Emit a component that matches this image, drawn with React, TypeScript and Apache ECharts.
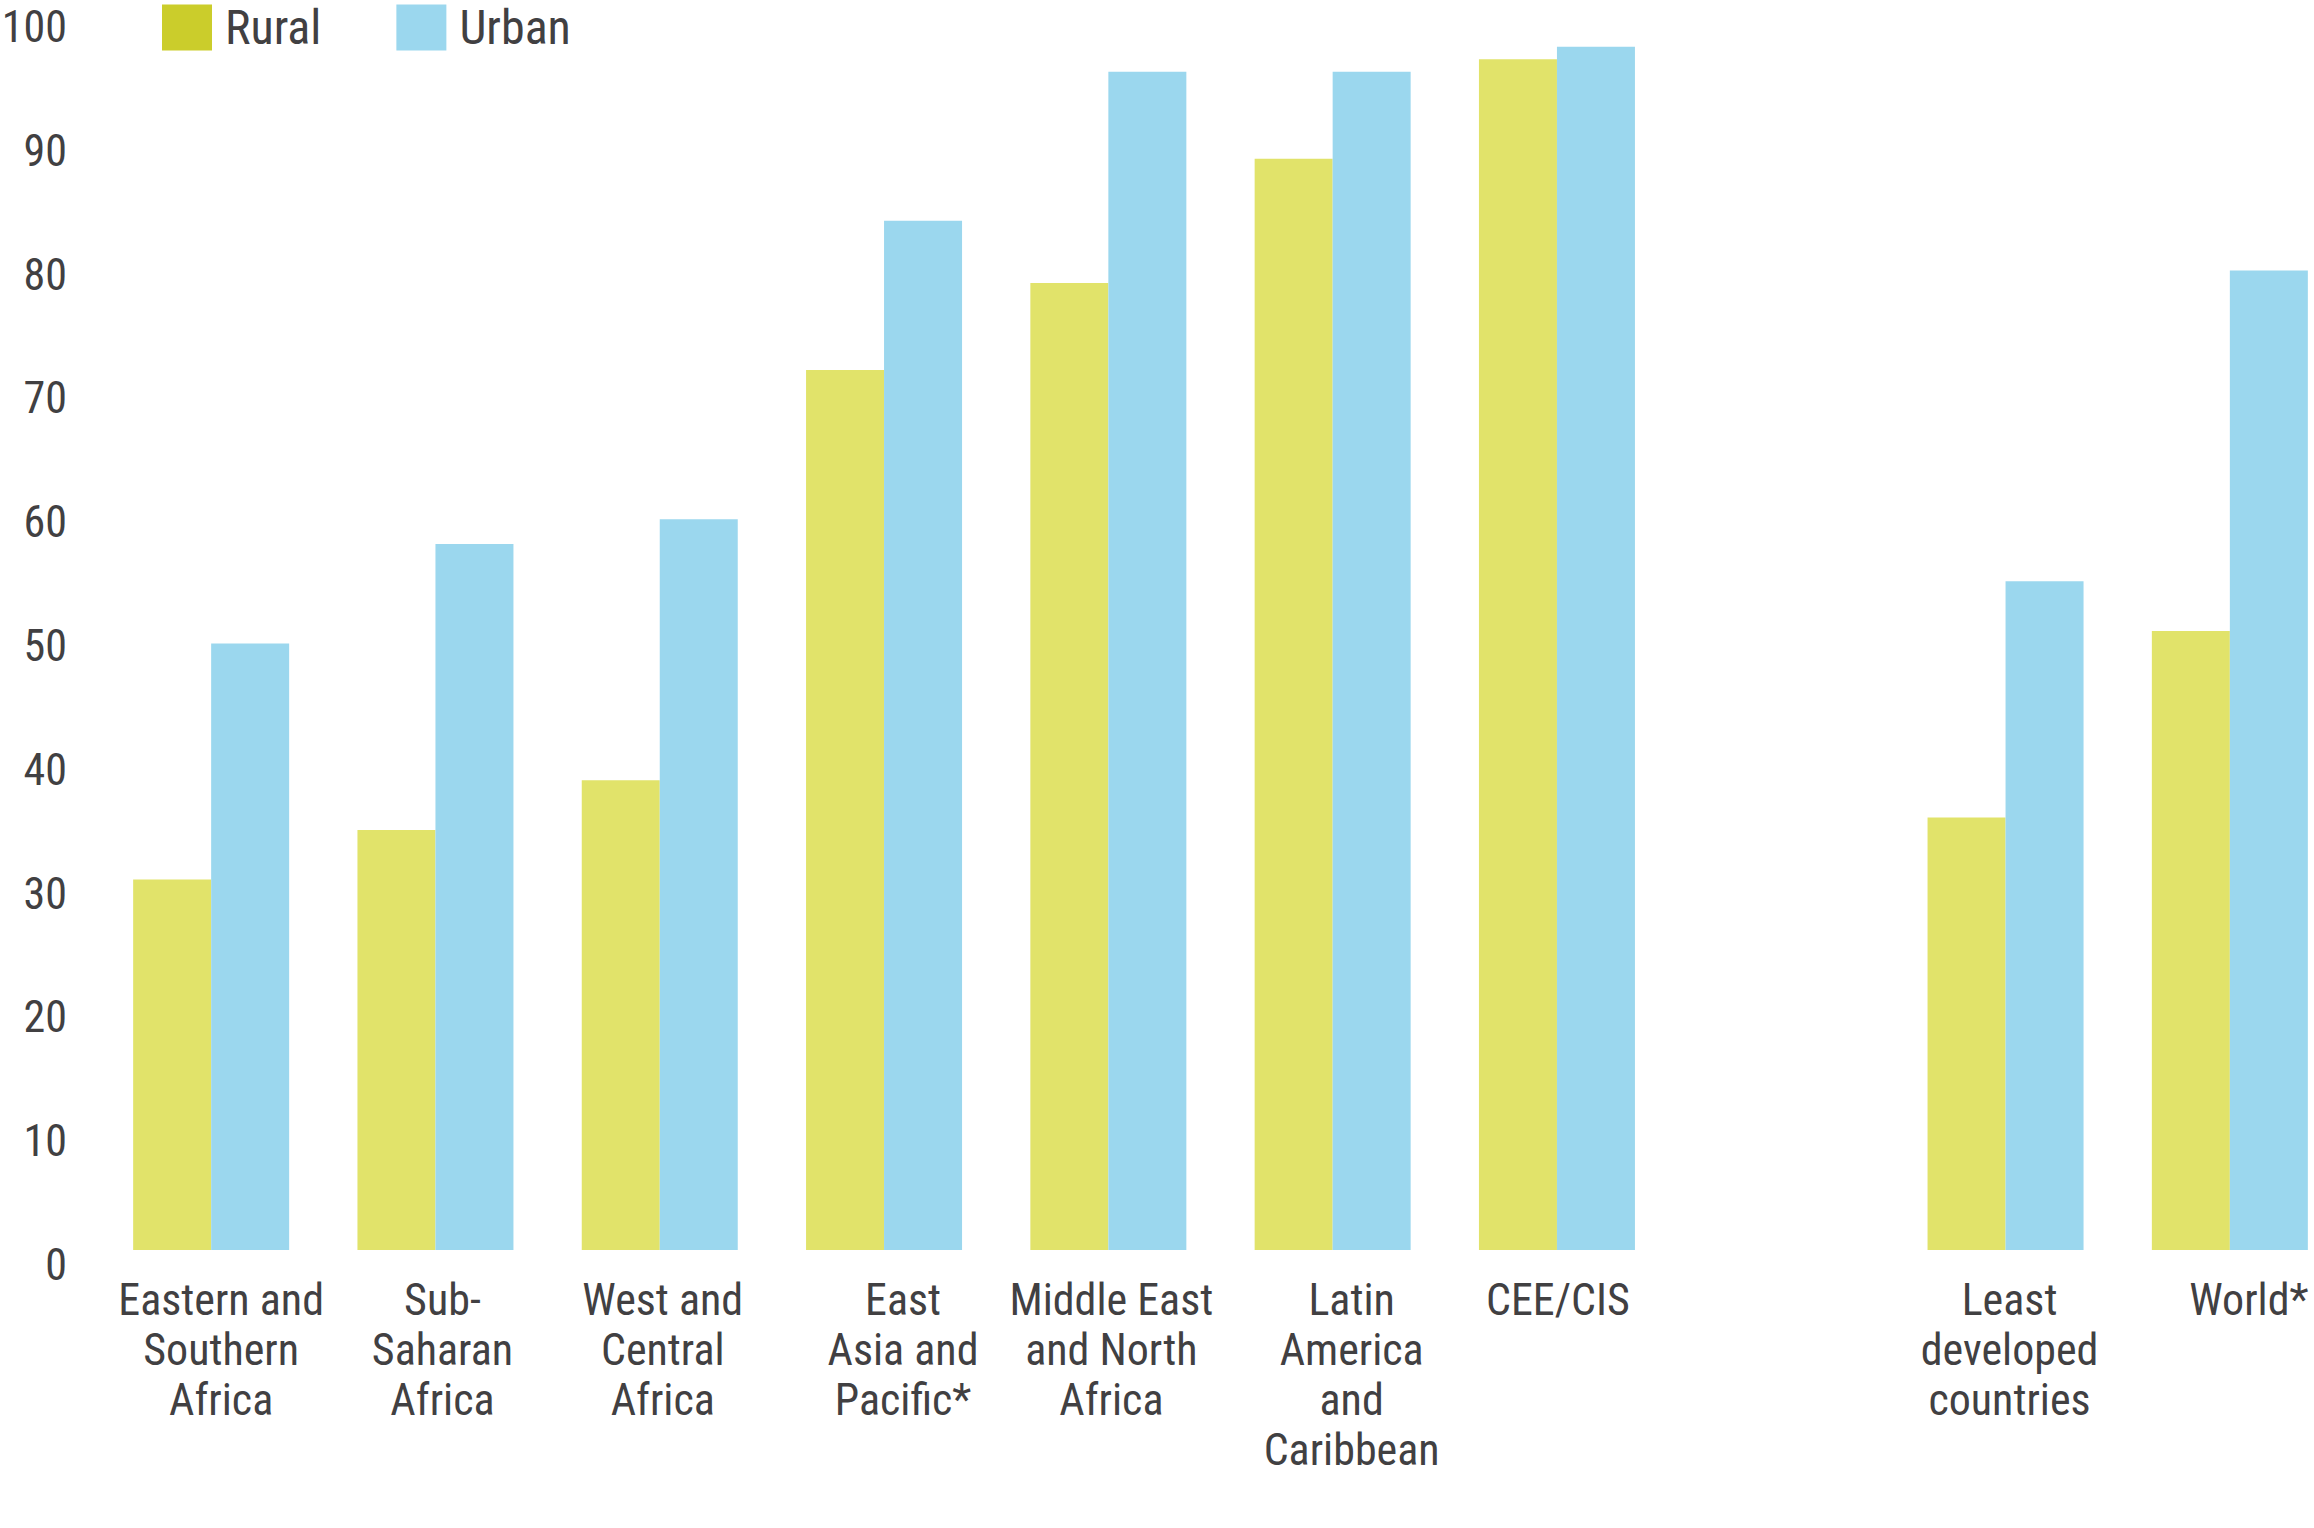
import React, { useEffect, useRef } from "react";
import * as echarts from "echarts";

const categories = [
  "Eastern and\nSouthern\nAfrica",
  "Sub-\nSaharan\nAfrica",
  "West and\nCentral\nAfrica",
  "East\nAsia and\nPacific*",
  "Middle East\nand North\nAfrica",
  "Latin\nAmerica\nand\nCaribbean",
  "CEE/CIS",
  "",
  "Least\ndeveloped\ncountries",
  "World*",
];
const rural = [31, 35, 39, 72, 79, 89, 97, null, 36, 51];
const urban = [50, 58, 60, 84, 96, 96, 98, null, 55, 80];
const seriesNames = ["Rural", "Urban"];
const yTicks = { min: 0, max: 100, interval: 10 };

// styling: horizontal nudge (px) of each category label, as in the original layout
const labelNudge = [10, 7, 3, 19, 3, 19, 1, 0, 4, 19];

const FONT =
  "'Liberation Sans Narrow', 'Roboto Condensed', 'Noto Sans Condensed', 'Open Sans Condensed', 'DejaVu Sans Condensed', sans-serif";
const TEXT = "#414042";
const RURAL_BAR = "#E1E36A";
const RURAL_KEY = "#CBCD2B";
const URBAN = "#9BD7EE";

export default function App() {
  const ref = useRef<HTMLDivElement>(null);
  useEffect(() => {
    if (!ref.current) return;
    const chart = echarts.init(ref.current, null, { renderer: "svg" });
    const catData = categories.map((c, i) => ({
      value: c,
      textStyle: { padding: [0, 0, 0, labelNudge[i] * 2] },
    }));
    chart.setOption({
      animation: false,
      backgroundColor: "#ffffff",
      textStyle: { fontFamily: FONT },
      legend: {
        left: 162,
        top: 0,
        padding: 0,
        itemWidth: 50,
        itemHeight: 46,
        itemGap: 75,
        icon: "rect",
        textStyle: {
          fontFamily: FONT,
          fontSize: 48,
          lineHeight: 36,
          color: TEXT,
          padding: [19, 0, 0, 8],
        },
        data: [
          { name: seriesNames[0], itemStyle: { color: RURAL_KEY } },
          { name: seriesNames[1], itemStyle: { color: URBAN } },
        ],
      },
      grid: [
        {
          left: 99,
          width: 2243,
          top: 22,
          height: 1228,
          containLabel: false,
          outerBoundsMode: "none",
        },
        {
          left: 99,
          width: 2243,
          top: 27,
          height: 1238,
          containLabel: false,
          outerBoundsMode: "none",
        },
      ],
      xAxis: [
        {
          type: "category",
          gridIndex: 0,
          data: catData,
          axisLine: { show: false },
          axisTick: { show: false },
          axisLabel: {
            interval: 0,
            margin: 25,
            fontFamily: FONT,
            fontSize: 44,
            lineHeight: 50,
            color: TEXT,
            align: "center",
            hideOverlap: false,
          },
        },
        {
          type: "category",
          gridIndex: 1,
          data: categories,
          show: false,
        },
      ],
      yAxis: [
        {
          type: "value",
          gridIndex: 0,
          min: 1.2,
          max: 100,
          show: false,
          splitLine: { show: false },
        },
        {
          type: "value",
          gridIndex: 1,
          min: yTicks.min,
          max: yTicks.max,
          interval: yTicks.interval,
          splitLine: { show: false },
          axisLine: { show: false },
          axisTick: { show: false },
          axisLabel: {
            margin: 32,
            fontFamily: FONT,
            fontSize: 44,
            lineHeight: 38,
            padding: [4, 0, 0, 0],
            color: TEXT,
          },
        },
      ],
      series: [
        {
          name: seriesNames[0],
          type: "bar",
          xAxisIndex: 0,
          yAxisIndex: 0,
          data: rural,
          barWidth: 78,
          barGap: "0%",
          clip: true,
          itemStyle: { color: RURAL_BAR },
        },
        {
          name: seriesNames[1],
          type: "bar",
          xAxisIndex: 0,
          yAxisIndex: 0,
          data: urban,
          barWidth: 78,
          barGap: "0%",
          clip: true,
          itemStyle: { color: URBAN },
        },
      ],
    });
    return () => chart.dispose();
  }, []);
  return (
    <div
      ref={ref}
      style={{ position: "fixed", left: 0, top: 0, width: 2314, height: 1528 }}
    />
  );
}
